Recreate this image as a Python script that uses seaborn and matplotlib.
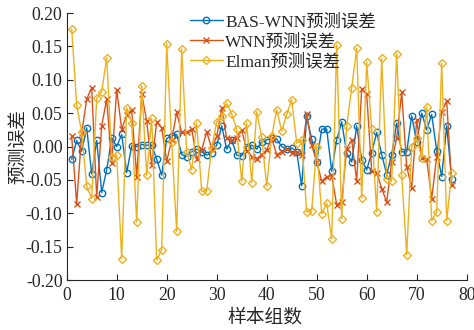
import matplotlib
matplotlib.use("Agg")
import matplotlib.pyplot as plt
from matplotlib.ticker import FormatStrFormatter
import pandas as pd
import seaborn as sns

# sample index
sample = list(range(1, 78))

# prediction errors of the three models
bas_wnn = [-0.019, 0.009, -0.007, 0.028, -0.041, 0.009, -0.069, -0.035, 0.013, 0.000,
           0.018, -0.039, 0.001, 0.000, 0.003, 0.002, 0.002, -0.019, -0.043, 0.012,
           0.016, 0.018, -0.012, -0.015, -0.008, -0.004, -0.008, -0.013, -0.009, 0.002,
           0.031, -0.004, 0.010, -0.013, -0.014, 0.000, 0.002, -0.004, 0.007, 0.010,
           0.012, 0.011, 0.000, -0.004, -0.002, -0.008, -0.059, 0.045, 0.011, -0.023,
           0.026, 0.026, -0.037, 0.010, 0.037, -0.010, -0.023, 0.031, -0.020, -0.035,
           -0.009, 0.021, -0.012, -0.042, -0.012, 0.035, -0.008, -0.008, 0.046, 0.007,
           0.050, 0.025, 0.048, -0.006, -0.045, 0.031, -0.049]

wnn = [0.015, -0.086, 0.020, 0.071, 0.088, -0.076, 0.031, 0.071, -0.025, 0.085,
       0.026, 0.047, 0.055, -0.045, 0.079, 0.038, -0.027, 0.036, 0.028, -0.022,
       0.010, 0.051, 0.021, 0.021, 0.026, -0.018, -0.005, 0.022, -0.003, 0.015,
       0.057, 0.012, 0.010, 0.013, 0.025, -0.006, -0.015, -0.018, -0.012, -0.005,
       0.012, -0.012, -0.008, -0.003, -0.010, -0.008, -0.013, 0.048, 0.002, -0.023,
       -0.052, -0.045, -0.044, -0.087, -0.083, -0.003, 0.010, -0.052, 0.086, 0.078,
       -0.037, -0.039, -0.063, -0.083, -0.023, 0.013, 0.081, -0.030, -0.062, 0.040,
       -0.017, -0.019, -0.078, -0.015, 0.052, 0.068, -0.058]

elman = [0.176, 0.062, 0.021, -0.059, -0.078, 0.072, 0.082, 0.133, -0.015, -0.013,
         -0.168, 0.058, 0.035, -0.113, 0.091, -0.043, 0.042, -0.170, -0.155, 0.154,
         0.006, -0.127, 0.146, -0.008, -0.035, 0.035, -0.067, -0.066, -0.002, 0.037,
         0.045, 0.065, 0.049, 0.026, -0.052, 0.035, -0.054, 0.052, 0.014, -0.059,
         0.015, 0.055, 0.023, 0.048, 0.070, 0.005, 0.010, -0.098, -0.096, 0.000,
         -0.101, -0.085, -0.138, 0.152, -0.108, 0.031, 0.088, 0.147, -0.077, 0.126,
         0.026, -0.098, 0.132, -0.048, -0.052, 0.139, -0.042, -0.162, 0.000, 0.012,
         -0.017, 0.059, -0.111, -0.098, 0.125, -0.111, -0.040]

series_names = ["BAS-WNN预测误差", "WNN预测误差", "Elman预测误差"]
x_ticks = [0, 10, 20, 30, 40, 50, 60, 70, 80]
y_ticks = [-0.20, -0.15, -0.10, -0.05, 0.00, 0.05, 0.10, 0.15, 0.20]

colors = ["#0072BD", "#D95319", "#EDB120"]
markers = ["o", "x", "D"]
msizes = [4.6, 4.2, 4.4]

sns.set_style("ticks")
plt.rcParams["font.family"] = ["Liberation Serif", "Noto Sans CJK SC"]
plt.rcParams["axes.unicode_minus"] = True

fig = plt.figure(figsize=(4.74, 3.30), dpi=100)
ax = fig.add_axes([0.1407, 0.1515, 0.8439, 0.8091])

for name, vals, c, m, ms in zip(series_names, [bas_wnn, wnn, elman], colors, markers, msizes):
    df = pd.DataFrame({"sample": sample, "error": vals})
    sns.lineplot(data=df, x="sample", y="error", ax=ax, color=c, marker=m,
                 markersize=ms, markerfacecolor="none", markeredgecolor=c,
                 markeredgewidth=1.0, linewidth=1.0, label=name)

ax.set_xlim(0, 80)
ax.set_ylim(-0.20, 0.20)
ax.set_xticks(x_ticks)
ax.set_yticks(y_ticks)
ax.yaxis.set_major_formatter(FormatStrFormatter("%.2f"))
ax.tick_params(direction="in", length=4, width=0.8, labelsize=12.8,
               colors="#262626", top=False, right=False)
ax.tick_params(axis="x", pad=5)
ax.tick_params(axis="y", pad=3)
for s in ["top", "right"]:
    ax.spines[s].set_visible(False)
for s in ["left", "bottom"]:
    ax.spines[s].set_linewidth(0.8)
    ax.spines[s].set_color("#262626")

ax.set_xlabel("样本组数", fontsize=13.5)
ax.set_ylabel("预测误差", fontsize=13.5)
ax.xaxis.set_label_coords(0.495, -0.108)
ax.yaxis.set_label_coords(-0.10, 0.5)

ax.legend(loc="upper left", bbox_to_anchor=(0.29, 1.025), frameon=False,
          fontsize=12.5, handlelength=1.9, handletextpad=0.15, labelspacing=0.2,
          borderaxespad=0)

fig.savefig("out.png", dpi=100)
